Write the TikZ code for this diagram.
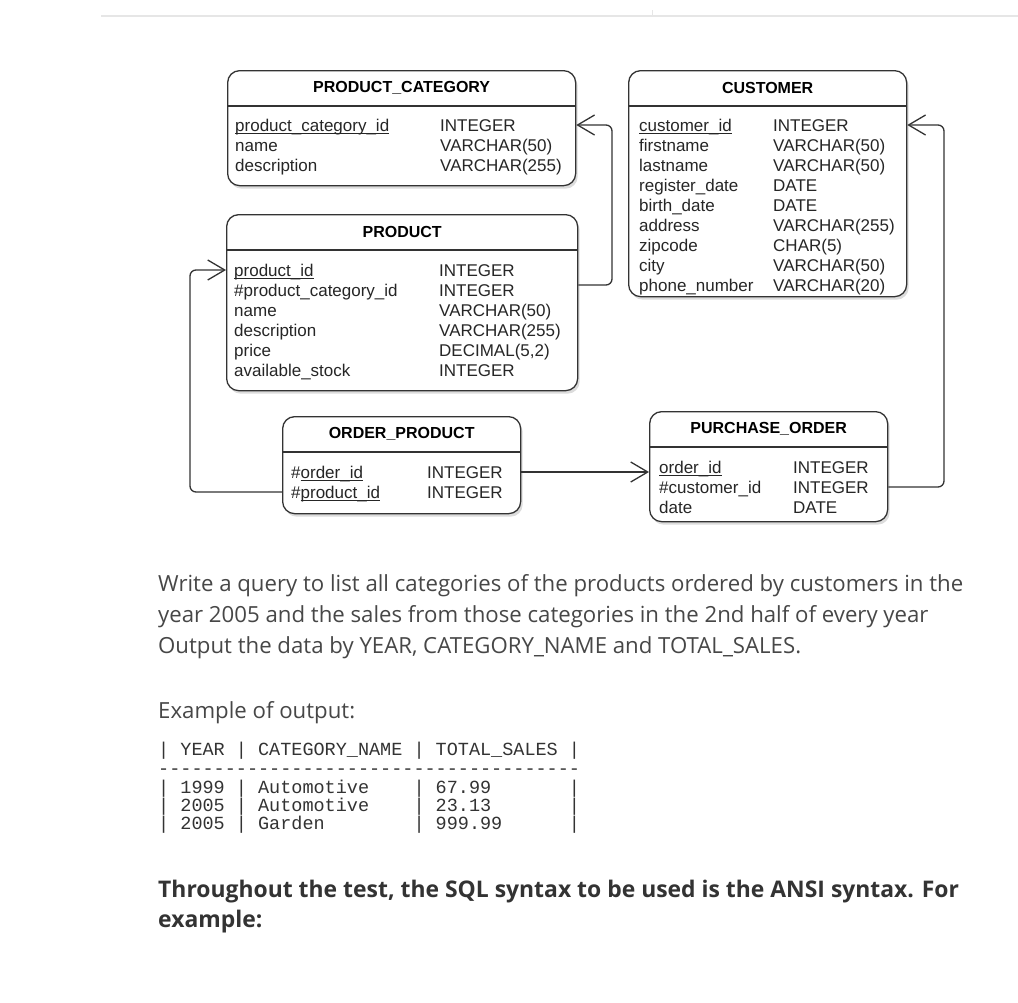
\documentclass[tikz,border=0pt]{standalone}
\usepackage{fontspec}
\setmainfont{Liberation Sans}
\setmonofont{Liberation Mono}
\newfontfamily\opensans{Open Sans}
\usetikzlibrary{arrows.meta,shadows}
\definecolor{ink}{HTML}{333333}
\definecolor{prose}{HTML}{474747}
\definecolor{hairline}{HTML}{E6E6E6}
\newcommand{\pkey}[1]{\setbox0\hbox{#1}\rlap{\rule[-3pt]{\wd0}{0.9pt}}\box0}

\begin{document}
\begin{tikzpicture}[x=1pt,y=-1pt,
  entity/.style={draw=ink,line width=1.3pt,rounded corners=12pt,fill=white,anchor=north west,inner sep=0pt,
    drop shadow={shadow xshift=2pt,shadow yshift=-3pt,opacity=0.3,fill=black!45}},
  divider/.style={draw=ink,line width=1.1pt},
  title/.style={font=\bfseries\fontsize{16}{19}\selectfont,text=black,inner sep=0pt},
  field/.style={anchor=west,inner sep=0pt,text height=14pt,text depth=1.8pt,font=\fontsize{17}{20}\selectfont,text=black!85},
  fk/.style={draw=ink,line width=1.3pt,rounded corners=6pt,-{Straight Barb[length=17pt,width=20pt,line width=1.3pt]}},
  prose/.style={anchor=base west,inner sep=0pt,font=\opensans\fontsize{22.2}{30}\selectfont,text=prose},
  lead/.style={anchor=base west,inner sep=0pt,font=\opensans\bfseries\fontsize{22.9}{30}\selectfont,text=ink},
  mono/.style={anchor=base west,inner sep=0pt,font=\ttfamily\fontsize{18.5}{18}\selectfont,text=ink}
]
\fill[white] (0,0) rectangle (1018,1002);
\useasboundingbox (0,0) rectangle (1018,1002);
\draw[hairline,line width=2pt] (101,16) -- (1018,16);
\draw[hairline,line width=0.6pt] (652,10) -- (652,15);

\node[entity,minimum width=348pt,minimum height=115pt] (pc) at (227,70) {};
\node[entity,minimum width=351pt,minimum height=176pt] (prod) at (226,214) {};
\node[entity,minimum width=278pt,minimum height=226pt] (cust) at (628,70) {};
\node[entity,minimum width=238pt,minimum height=97pt] (op) at (282,416) {};
\node[entity,minimum width=238pt,minimum height=110pt] (po) at (649,411) {};

\foreach \tbl/\tname in {pc/PRODUCT\_CATEGORY,prod/PRODUCT,cust/CUSTOMER,op/ORDER\_PRODUCT,po/PURCHASE\_ORDER}{
  \node[title] (\tbl-title) at ([yshift=-18pt]\tbl.north) {\tname};
  \draw[divider] ([yshift=-36pt]\tbl.north west) -- ([yshift=-36pt]\tbl.north east);
}

\foreach \fname/\ftype [count=\i from 0] in {{\pkey{product\_category\_id}}/INTEGER,name/VARCHAR(50),description/VARCHAR(255)}{
  \node[field] (pc-n\i) at (235,125+20*\i) {\fname};
  \node[field] (pc-t\i) at (440,125+20*\i) {\ftype};
}
\foreach \fname/\ftype [count=\i from 0] in {{\pkey{product\_id}}/INTEGER,\#product\_category\_id/INTEGER,name/VARCHAR(50),
    description/VARCHAR(255),price/{DECIMAL(5,2)},available\_stock/INTEGER}{
  \node[field] (prod-n\i) at (234,270+20*\i) {\fname};
  \node[field] (prod-t\i) at (439,270+20*\i) {\ftype};
}
\foreach \fname/\ftype [count=\i from 0] in {{\pkey{customer\_id}}/INTEGER,firstname/VARCHAR(50),lastname/VARCHAR(50),
    register\_date/DATE,birth\_date/DATE,address/VARCHAR(255),zipcode/CHAR(5),city/VARCHAR(50),phone\_number/VARCHAR(20)}{
  \node[field] (cust-n\i) at (639,125+20*\i) {\fname};
  \node[field] (cust-t\i) at (773,125+20*\i) {\ftype};
}
\foreach \fname/\ftype [count=\i from 0] in {{\#\pkey{order\_id}}/INTEGER,{\#\pkey{product\_id}}/INTEGER}{
  \node[field] (op-n\i) at (291,472+20*\i) {\fname};
  \node[field] (op-t\i) at (427,472+20*\i) {\ftype};
}
\foreach \fname/\ftype [count=\i from 0] in {{\pkey{order\_id}}/INTEGER,\#customer\_id/INTEGER,date/DATE}{
  \node[field] (po-n\i) at (659,467+20*\i) {\fname};
  \node[field] (po-t\i) at (793,467+20*\i) {\ftype};
}

\coordinate (pcbend) at (612,285);
\coordinate (opbend) at (190,0);
\coordinate (cubend) at (944,0);
\draw[fk] (prod.east |- pcbend) -- (pcbend) |- (pc.east |- pc-n0);
\draw[fk] (op.west |- op-n1) -- (opbend |- op-n1) |- (prod.west |- prod-n0);
\draw[fk] (op.east |- op-n0) -- (po.west |- op-n0);
\draw[fk] (po.east |- po-n1) -- (cubend |- po-n1) |- (cust.east |- cust-n0);

\node[prose] (q1) at (158,591) {Write a query to list all categories of the products ordered by customers in the};
\node[prose] (q2) at (158,622) {year 2005 and the sales from those categories in the 2nd half of every year};
\node[prose] (q3) at (158,653) {Output the data by YEAR, CATEGORY\_NAME and TOTAL\_SALES.};
\node[prose] (ex) at (158,718) {Example of output:};

\node[mono] (hdr) at (158,755) {|~YEAR~|~CATEGORY\_NAME~|~TOTAL\_SALES~|};
\node[mono] (rule) at (158,774) {-{}-{}-{}-{}-{}-{}-{}-{}-{}-{}-{}-{}-{}-{}-{}-{}-{}-{}-{}-{}-{}-{}-{}-{}-{}-{}-{}-{}-{}-{}-{}-{}-{}-{}-{}-{}-{}-{}};
\node[mono] (r1) at (158,793) {|~1999~|~Automotive~~~~|~67.99~~~~~~~|};
\node[mono] (r2) at (158,811) {|~2005~|~Automotive~~~~|~23.13~~~~~~~|};
\node[mono] (r3) at (158,829) {|~2005~|~Garden~~~~~~~~|~999.99~~~~~~|};

\node[lead] (b1) at (158,897) {Throughout the test, the SQL syntax to be used is the ANSI syntax. For};
\node[lead] (b2) at (158,927) {example:};
\end{tikzpicture}
\end{document}
